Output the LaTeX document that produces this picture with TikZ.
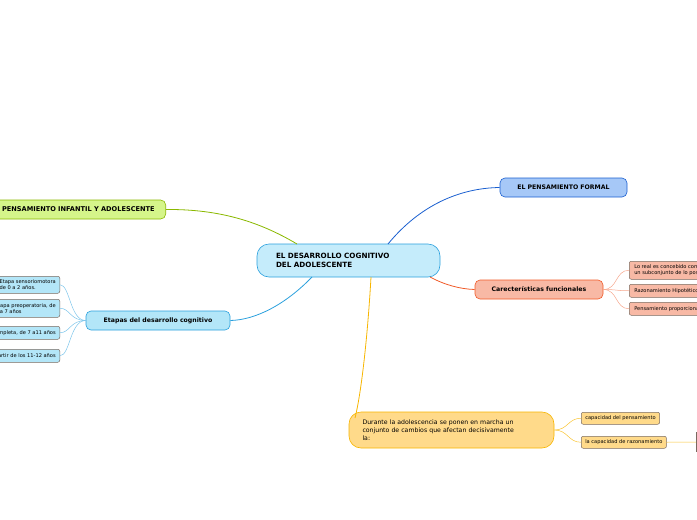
\documentclass[tikz,border=0pt]{standalone}
\usepackage{fontspec}
\setmainfont{DejaVu Sans}
\begin{document}
\begin{tikzpicture}[x=1pt,y=-1pt,
 box/.style={draw,rounded corners=5pt,line width=0.6pt,inner sep=0pt,font=\bfseries\fontsize{6.2}{7.5}\selectfont},
 sub/.style={draw=#1,rounded corners=2pt,line width=0.5pt,inner sep=0pt,font=\fontsize{5.1}{6.2}\selectfont,align=left},
 every node/.style={text=black}]
\useasboundingbox (0,0) rectangle (697,520);
\clip (0,0) rectangle (697,520);
\definecolor{cb}{HTML}{C5ECFB}\definecolor{cbs}{HTML}{2AA0DD}
\definecolor{pf}{HTML}{A6C8F7}\definecolor{pfs}{HTML}{1A5FD0}
\definecolor{cf}{HTML}{F8B9A5}\definecolor{cfs}{HTML}{F05A28}
\definecolor{et}{HTML}{B3E6F8}
\definecolor{gr}{HTML}{D5F58A}\definecolor{grs}{HTML}{8AB800}
\definecolor{du}{HTML}{FFDA8A}\definecolor{dus}{HTML}{F7B500}
\definecolor{sb}{HTML}{7A6A60}
\node[box,draw=cbs,fill=cb,minimum width=183,minimum height=33,rounded corners=12pt,text width=145,align=left,font=\bfseries\fontsize{7.2}{9}\selectfont] (c) at (348.5,260.5) {EL DESARROLLO COGNITIVO\\DEL ADOLESCENTE};
\node[box,draw=pfs,fill=pf,minimum width=127,minimum height=19] (pfn) at (563.5,187.5) {EL PENSAMIENTO FORMAL};
\node[box,draw=cfs,fill=cf,minimum width=128,minimum height=19] (cfn) at (539,289.5) {Carecterísticas funcionales};
\node[box,draw=cbs,fill=et,minimum width=144,minimum height=19] (etn) at (158,320.5) {Etapas del desarrollo cognitivo};
\node[box,draw=grs,fill=gr,minimum height=19,anchor=east,inner xsep=11pt,font=\bfseries\fontsize{6.6}{7.5}\selectfont] (grn) at (166,209.5) {EL PENSAMIENTO INFANTIL Y ADOLESCENTE};
\node[box,draw=dus,fill=du,minimum width=205,minimum height=36,rounded corners=12pt,text width=178,align=left,font=\fontsize{6.2}{8}\selectfont] (dun) at (451.5,430) {Durante la adolescencia se ponen en marcha un\\conjunto de cambios que afectan decisivamente\\la:};
\node[sub=sb,fill=cf,anchor=north west,minimum height=18,inner xsep=5pt] (r1) at (629,261) {Lo real es concebido como\\un subconjunto de lo posible};
\node[sub=sb,fill=cf,anchor=north west,minimum height=13,inner xsep=5pt] (r2) at (629,284) {Razonamiento Hipotético-deductivo};
\node[sub=sb,fill=cf,anchor=north west,minimum height=13,inner xsep=5pt] (r3) at (629,302) {Pensamiento proporcional};
\node[sub=sb,fill=et,anchor=north east,minimum height=17,inner xsep=4pt] (l1) at (60,276) {Etapa sensoriomotora\\de 0 a 2 años.};
\node[sub=sb,fill=et,anchor=north east,minimum height=18,inner xsep=4pt] (l2) at (60,299) {Etapa preoperatoria, de\\2 a 7 años};
\node[sub=sb,fill=et,anchor=north east,minimum height=13,inner xsep=4pt] (l3) at (60,326) {Etapa operacional completa, de 7 a11 años};
\node[sub=sb,fill=et,anchor=north east,minimum height=13,inner xsep=4pt] (l4) at (60,349) {Etapa formal, a partir de los 11-12 años};
\node[sub=sb,fill=du,anchor=north west,minimum height=12,inner xsep=4pt] (b1) at (581,412) {capacidad del pensamiento};
\node[sub=sb,fill=du,anchor=north west,minimum height=12,inner xsep=4pt] (b2) at (581,436) {la capacidad de razonamiento};
\coordinate (b3) at (697,442);
\draw[pfs,line width=0.8pt] (388,244) .. controls (420,205) and (460,188) .. (pfn.west);
\draw[cfs,line width=0.8pt] (430,277) .. controls (445,285) and (460,289) .. (cfn.west);
\draw[cbs,line width=0.8pt] (312,277) .. controls (285,305) and (255,320) .. (etn.east);
\draw[grs,line width=0.8pt] (297,244) .. controls (260,222) and (220,209) .. (grn.east);
\draw[dus,line width=0.8pt] (371,277) .. controls (368,330) and (362,390) .. (355,418);
\foreach \n in {r1,r2,r3}\draw[cf!80!cfs,line width=0.5pt] (cfn.east) .. controls (618,289.5) and (615,0|-\n.west) .. (\n.west);
\foreach \n in {l1,l2,l3,l4}\draw[cbs!60,line width=0.5pt] (etn.west) .. controls (70,320.5) and (70,0|-\n.east) .. (\n.east);
\foreach \n in {b1,b2}\draw[dus!80,line width=0.5pt] (dun.east) .. controls (568,430) and (568,0|-\n.west) .. (\n.west);
\draw[dus!80,line width=0.5pt] (b2.east) -- (b3);
\draw[sb,line width=1pt] (696.5,432) -- (696.5,452);
\end{tikzpicture}
\end{document}
